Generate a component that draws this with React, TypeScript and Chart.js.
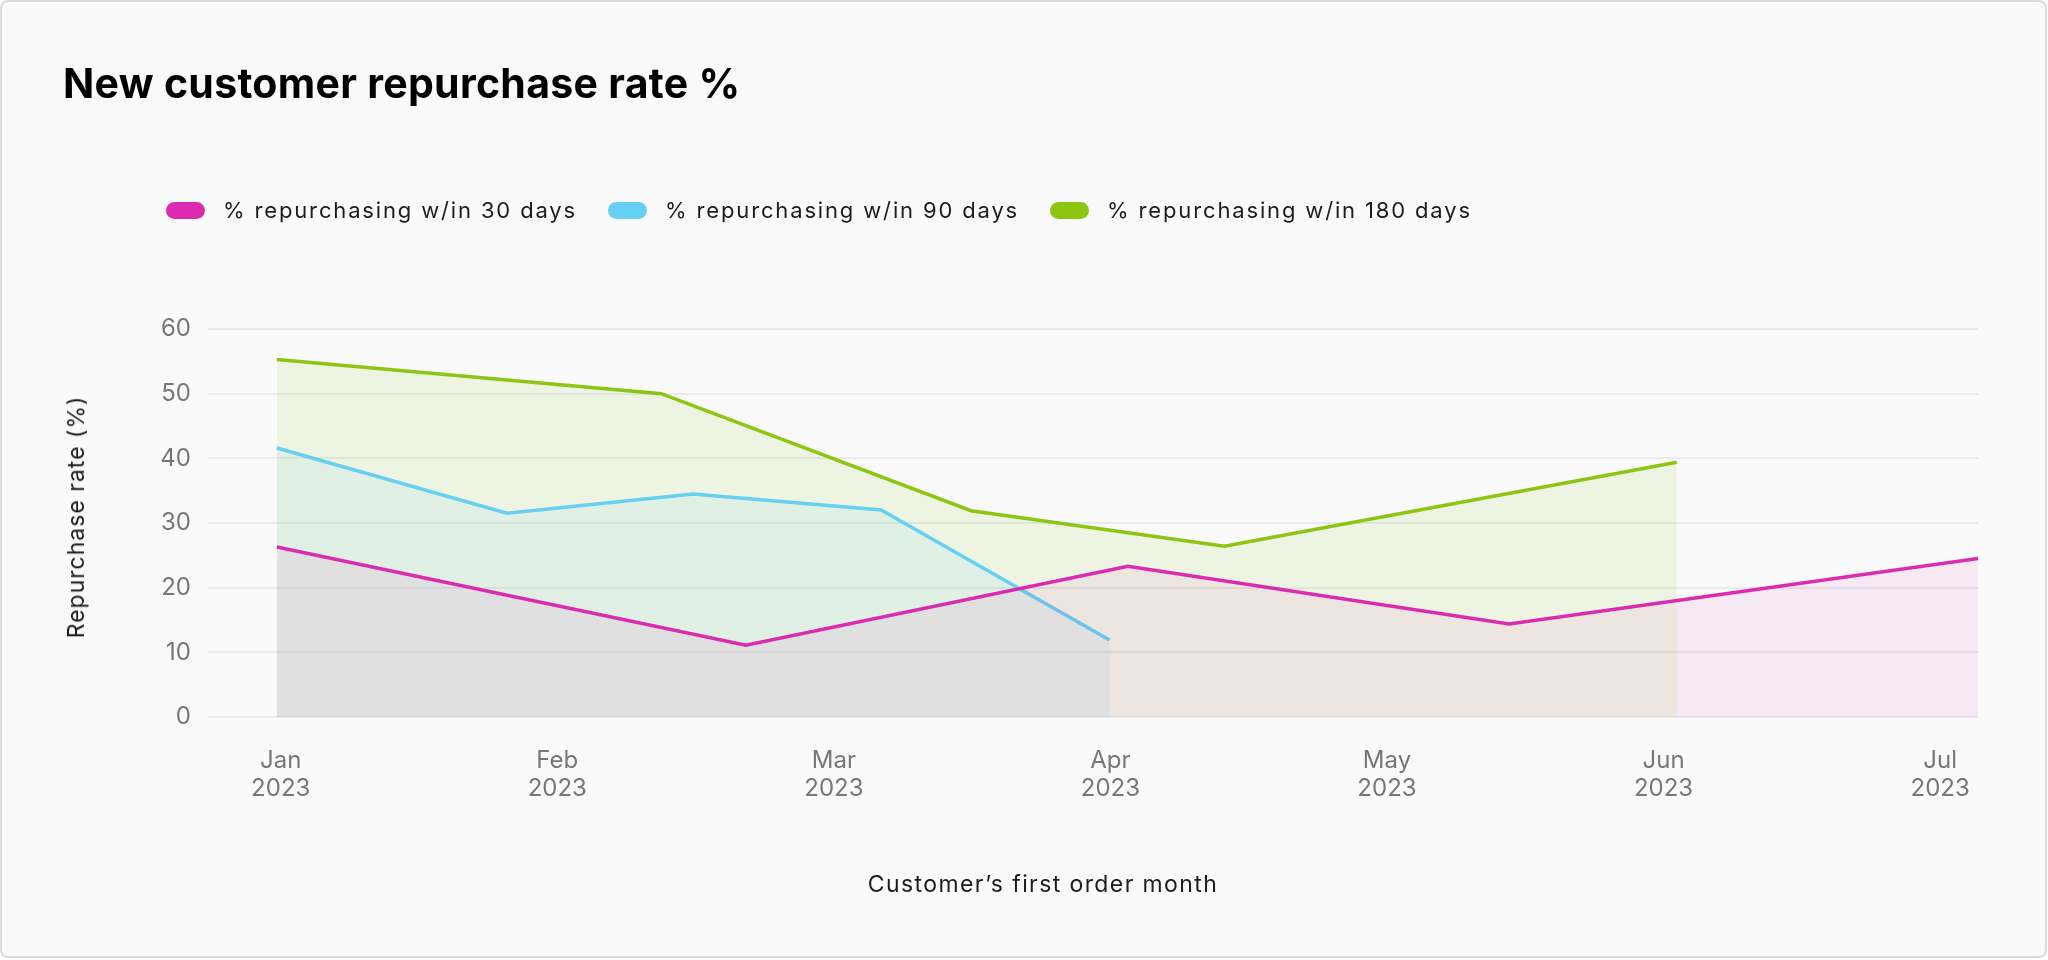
import { useEffect, useRef } from "react"
import { Chart, registerables, type ChartConfiguration } from "chart.js"

Chart.register(...registerables)

// x positions are in months from Jan 2023 (0 = Jan, 6 = Jul)
const monthTicks = [0, 1, 2, 3, 4, 5, 6]
const monthLabels = ["Jan", "Feb", "Mar", "Apr", "May", "Jun", "Jul"]
const yearLabel = "2023"

const seriesLabels = [
  "% repurchasing w/in 30 days",
  "% repurchasing w/in 90 days",
  "% repurchasing w/in 180 days",
]
const seriesColors = ["#da2bb1", "#65d0f1", "#8dc513"]
const seriesFills = [
  "rgba(218, 43, 177, 0.08)",
  "rgba(101, 208, 241, 0.1)",
  "rgba(141, 197, 19, 0.1)",
]

const within30X = [-0.014, 1.682, 3.063, 4.442, 6.137]
const within30Y = [26.3, 11.1, 23.3, 14.4, 24.5]
const within90X = [-0.014, 0.818, 1.491, 2.171, 2.997]
const within90Y = [41.6, 31.5, 34.5, 32.0, 11.9]
const within180X = [-0.014, 1.376, 2.496, 3.412, 5.048]
const within180Y = [55.3, 50.0, 31.9, 26.4, 39.4]

const seriesX = [within30X, within90X, within180X]
const seriesY = [within30Y, within90Y, within180Y]

const FONT = "Inter, 'Noto Sans', sans-serif"

export default function App() {
  const canvasRef = useRef<HTMLCanvasElement>(null)
  const chartRef = useRef<Chart | null>(null)

  useEffect(() => {
    if (!canvasRef.current) return
    const ctx = canvasRef.current.getContext("2d")
    if (!ctx) return

    const config: ChartConfiguration<"line"> = {
      type: "line",
      data: {
        datasets: seriesLabels.map((label, i) => ({
          label,
          data: seriesX[i].map((x, j) => ({ x, y: seriesY[i][j] })),
          borderColor: seriesColors[i],
          backgroundColor: seriesFills[i],
          borderWidth: 3.5,
          fill: "origin",
          tension: 0,
          pointRadius: 0,
          pointHoverRadius: 0,
        })),
      },
      options: {
        responsive: false,
        animation: false,
        devicePixelRatio: 1,
        layout: {
          padding: { left: 62, top: 329, right: 70, bottom: 143 },
        },
        plugins: {
          legend: { display: false },
          tooltip: { enabled: false },
        },
        scales: {
          x: {
            type: "linear",
            min: -0.263,
            max: 6.137,
            afterBuildTicks: (axis) => {
              axis.ticks = monthTicks.map((v) => ({ value: v }))
            },
            afterFit: (axis) => {
              axis.height = 100
            },
            grid: { display: false, drawTicks: false },
            border: { display: false },
            ticks: {
              padding: 29.5,
              color: "#777777",
              font: { family: FONT, size: 24, lineHeight: 1.18 },
              maxRotation: 0,
              autoSkip: false,
              callback: (value) => [monthLabels[Number(value)] ?? "", yearLabel],
            },
          },
          y: {
            min: 0,
            max: 60,
            afterFit: (axis) => {
              axis.width = 146
            },
            grid: { color: "#e8eaee", lineWidth: 2, drawTicks: false },
            border: { display: false },
            ticks: {
              stepSize: 10,
              padding: 17,
              color: "#777777",
              font: { family: FONT, size: 24 },
            },
          },
        },
      },
    }

    chartRef.current = new Chart(ctx, config)

    return () => {
      if (chartRef.current) {
        chartRef.current.destroy()
        chartRef.current = null
      }
    }
  }, [])

  return (
    <div style={{ position: "absolute", left: 0, top: 0, width: 2048, height: 960, background: "#ffffff", fontFamily: FONT }}>
      <div
        style={{
          position: "absolute",
          left: 0,
          top: 0,
          width: 2047,
          height: 958,
          boxSizing: "border-box",
          border: "2px solid #dcdcdc",
          borderRadius: 8,
          background: "#fafafa",
        }}
      />
      <canvas ref={canvasRef} width={2048} height={960} style={{ position: "absolute", left: 0, top: 0 }} />
      <div
        style={{
          position: "absolute",
          left: 63,
          top: 59,
          fontSize: 41,
          lineHeight: "48px",
          fontWeight: 700,
          letterSpacing: 0.3,
          color: "#000000",
          whiteSpace: "nowrap",
        }}
      >
        New customer repurchase rate %
      </div>
      <div
        style={{
          position: "absolute",
          left: 166,
          top: 195,
          height: 30,
          display: "flex",
          alignItems: "center",
          gap: 31,
          fontSize: 22,
          letterSpacing: 1.85,
          color: "#1c1c1c",
          whiteSpace: "nowrap",
        }}
      >
        {seriesLabels.map((label, i) => (
          <div key={label} style={{ display: "flex", alignItems: "center" }}>
            <span
              style={{
                display: "inline-block",
                width: 39,
                height: 17,
                borderRadius: 9,
                background: seriesColors[i],
                marginRight: 18,
              }}
            />
            <span>{label}</span>
          </div>
        ))}
      </div>
      <div
        style={{
          position: "absolute",
          left: 76,
          top: 517,
          transform: "translate(-50%, -50%) rotate(-90deg)",
          fontSize: 23,
          letterSpacing: 1,
          color: "#1c1c1c",
          whiteSpace: "nowrap",
        }}
      >
        Repurchase rate (%)
      </div>
      <div
        style={{
          position: "absolute",
          left: 1043,
          top: 884,
          transform: "translate(-50%, -50%)",
          fontSize: 23,
          letterSpacing: 1.4,
          color: "#1c1c1c",
          whiteSpace: "nowrap",
        }}
      >
        Customer’s first order month
      </div>
    </div>
  )
}
